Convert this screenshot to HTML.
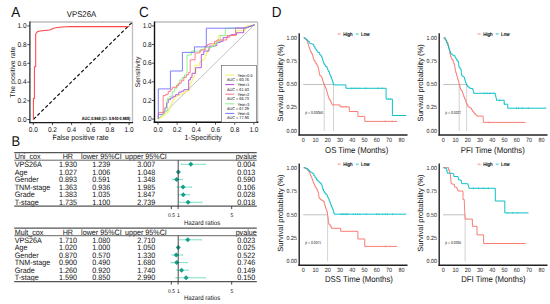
<!DOCTYPE html>
<html><head><meta charset="utf-8"><style>
html,body{margin:0;padding:0;background:#fff;width:550px;height:304px;overflow:hidden}
svg{display:block;font-family:"Liberation Sans", sans-serif;text-rendering:geometricPrecision}
</style></head><body>
<svg width="550" height="304" viewBox="0 0 550 304">
<rect width="550" height="304" fill="#fff"/>
<text x="0" y="0" font-size="14.67" text-anchor="start" fill="#111" stroke="#111" stroke-width="0.000" font-weight="normal" transform="translate(11.300,17.100) scale(0.9200,1.0000)">A</text>
<text x="0" y="0" font-size="8.48" text-anchor="middle" fill="#111" stroke="#111" stroke-width="0.000" font-weight="normal" transform="translate(81.500,17.400) scale(0.9200,1.0000)">VPS26A</text>
<line x1="29.90" y1="22.00" x2="132.50" y2="22.00" stroke="#bdbdbd" stroke-width="1.3"/>
<line x1="132.50" y1="22.00" x2="132.50" y2="122.70" stroke="#bdbdbd" stroke-width="1.3"/>
<line x1="27.30" y1="119.50" x2="29.90" y2="119.50" stroke="#222" stroke-width="0.8"/>
<text x="0" y="0" font-size="7.07" text-anchor="end" fill="#111" stroke="#111" stroke-width="0.000" font-weight="normal" transform="translate(26.500,121.800) scale(0.9200,1.0000)">0.0</text>
<line x1="33.30" y1="122.70" x2="33.30" y2="125.10" stroke="#222" stroke-width="0.8"/>
<text x="0" y="0" font-size="7.07" text-anchor="middle" fill="#111" stroke="#111" stroke-width="0.000" font-weight="normal" transform="translate(33.300,131.500) scale(0.9200,1.0000)">0.0</text>
<line x1="27.30" y1="100.78" x2="29.90" y2="100.78" stroke="#222" stroke-width="0.8"/>
<text x="0" y="0" font-size="7.07" text-anchor="end" fill="#111" stroke="#111" stroke-width="0.000" font-weight="normal" transform="translate(26.500,103.080) scale(0.9200,1.0000)">0.2</text>
<line x1="52.46" y1="122.70" x2="52.46" y2="125.10" stroke="#222" stroke-width="0.8"/>
<text x="0" y="0" font-size="7.07" text-anchor="middle" fill="#111" stroke="#111" stroke-width="0.000" font-weight="normal" transform="translate(52.460,131.500) scale(0.9200,1.0000)">0.2</text>
<line x1="27.30" y1="82.06" x2="29.90" y2="82.06" stroke="#222" stroke-width="0.8"/>
<text x="0" y="0" font-size="7.07" text-anchor="end" fill="#111" stroke="#111" stroke-width="0.000" font-weight="normal" transform="translate(26.500,84.360) scale(0.9200,1.0000)">0.4</text>
<line x1="71.62" y1="122.70" x2="71.62" y2="125.10" stroke="#222" stroke-width="0.8"/>
<text x="0" y="0" font-size="7.07" text-anchor="middle" fill="#111" stroke="#111" stroke-width="0.000" font-weight="normal" transform="translate(71.620,131.500) scale(0.9200,1.0000)">0.4</text>
<line x1="27.30" y1="63.34" x2="29.90" y2="63.34" stroke="#222" stroke-width="0.8"/>
<text x="0" y="0" font-size="7.07" text-anchor="end" fill="#111" stroke="#111" stroke-width="0.000" font-weight="normal" transform="translate(26.500,65.640) scale(0.9200,1.0000)">0.6</text>
<line x1="90.78" y1="122.70" x2="90.78" y2="125.10" stroke="#222" stroke-width="0.8"/>
<text x="0" y="0" font-size="7.07" text-anchor="middle" fill="#111" stroke="#111" stroke-width="0.000" font-weight="normal" transform="translate(90.780,131.500) scale(0.9200,1.0000)">0.6</text>
<line x1="27.30" y1="44.62" x2="29.90" y2="44.62" stroke="#222" stroke-width="0.8"/>
<text x="0" y="0" font-size="7.07" text-anchor="end" fill="#111" stroke="#111" stroke-width="0.000" font-weight="normal" transform="translate(26.500,46.920) scale(0.9200,1.0000)">0.8</text>
<line x1="109.94" y1="122.70" x2="109.94" y2="125.10" stroke="#222" stroke-width="0.8"/>
<text x="0" y="0" font-size="7.07" text-anchor="middle" fill="#111" stroke="#111" stroke-width="0.000" font-weight="normal" transform="translate(109.940,131.500) scale(0.9200,1.0000)">0.8</text>
<line x1="27.30" y1="25.90" x2="29.90" y2="25.90" stroke="#222" stroke-width="0.8"/>
<text x="0" y="0" font-size="7.07" text-anchor="end" fill="#111" stroke="#111" stroke-width="0.000" font-weight="normal" transform="translate(26.500,28.200) scale(0.9200,1.0000)">1.0</text>
<line x1="129.10" y1="122.70" x2="129.10" y2="125.10" stroke="#222" stroke-width="0.8"/>
<text x="0" y="0" font-size="7.07" text-anchor="middle" fill="#111" stroke="#111" stroke-width="0.000" font-weight="normal" transform="translate(129.100,131.500) scale(0.9200,1.0000)">1.0</text>
<line x1="29.90" y1="21.50" x2="29.90" y2="123.30" stroke="#1a1a1a" stroke-width="1.2"/>
<line x1="29.30" y1="122.70" x2="133.10" y2="122.70" stroke="#1a1a1a" stroke-width="1.2"/>
<text x="0" y="0" font-size="7.50" text-anchor="middle" fill="#111" stroke="#111" stroke-width="0.000" font-weight="normal" transform="translate(80.500,140.300) scale(0.9200,1.0000)">False positive rate</text>
<text x="0" y="0" font-size="6.95" text-anchor="middle" fill="#111" stroke="#111" stroke-width="0.000" font-weight="normal" transform="translate(15.000,72.200) scale(1.0000,1.0000) rotate(-90)">The positive rate</text>
<line x1="33.40" y1="119.40" x2="132.20" y2="22.30" stroke="#111" stroke-width="1.2" stroke-dasharray="3.4,2.2"/>
<polyline points="33.40,119.50 33.40,98.50 34.40,98.50 34.40,66.80 35.70,66.80 35.70,34.00 36.50,32.80 37.80,31.40 40.00,30.90 44.70,30.40 49.70,29.90 53.60,28.20 57.00,27.60 62.00,27.00 70.00,26.60 128.60,26.60 129.30,25.90" fill="none" stroke="#ff4646" stroke-width="1.05" stroke-linejoin="round"/>
<text x="0" y="0" font-size="4.60" text-anchor="end" fill="#000" stroke="#000" stroke-width="0.000" font-weight="bold" transform="translate(130.300,119.700) scale(0.8200,1.0000)">AUC:0.968 (CI: 0.940-0.988)</text>
<text x="0" y="0" font-size="14.13" text-anchor="start" fill="#111" stroke="#111" stroke-width="0.000" font-weight="normal" transform="translate(11.500,146.300) scale(0.9200,1.0000)">B</text>
<line x1="14.20" y1="152.60" x2="256.80" y2="152.60" stroke="#555" stroke-width="1.2"/>
<text x="0" y="0" font-size="7.80" text-anchor="start" fill="#111" stroke="#111" stroke-width="0.000" font-weight="normal" transform="translate(14.700,159.400) scale(0.9200,1.0000)">Uni_cox</text>
<text x="0" y="0" font-size="7.80" text-anchor="middle" fill="#111" stroke="#111" stroke-width="0.000" font-weight="normal" transform="translate(67.800,159.400) scale(0.9200,1.0000)">HR</text>
<text x="0" y="0" font-size="7.80" text-anchor="middle" fill="#111" stroke="#111" stroke-width="0.000" font-weight="normal" transform="translate(101.400,159.400) scale(0.9200,1.0000)">lower 95%CI</text>
<text x="0" y="0" font-size="7.80" text-anchor="middle" fill="#111" stroke="#111" stroke-width="0.000" font-weight="normal" transform="translate(145.900,159.400) scale(0.9200,1.0000)">upper 95%CI</text>
<text x="0" y="0" font-size="7.80" text-anchor="middle" fill="#111" stroke="#111" stroke-width="0.000" font-weight="normal" transform="translate(246.200,159.400) scale(0.9200,1.0000)">pvalue</text>
<line x1="14.20" y1="160.20" x2="256.80" y2="160.20" stroke="#555" stroke-width="0.9"/>
<text x="0" y="0" font-size="7.80" text-anchor="start" fill="#111" stroke="#111" stroke-width="0.000" font-weight="normal" transform="translate(14.700,167.000) scale(0.9200,1.0000)">VPS26A</text>
<text x="0" y="0" font-size="7.80" text-anchor="end" fill="#111" stroke="#111" stroke-width="0.000" font-weight="normal" transform="translate(77.000,167.000) scale(0.9200,1.0000)">1.930</text>
<text x="0" y="0" font-size="7.80" text-anchor="middle" fill="#111" stroke="#111" stroke-width="0.000" font-weight="normal" transform="translate(101.200,167.000) scale(0.9200,1.0000)">1.239</text>
<text x="0" y="0" font-size="7.80" text-anchor="middle" fill="#111" stroke="#111" stroke-width="0.000" font-weight="normal" transform="translate(146.200,167.000) scale(0.9200,1.0000)">3.007</text>
<text x="0" y="0" font-size="7.80" text-anchor="middle" fill="#111" stroke="#111" stroke-width="0.000" font-weight="normal" transform="translate(246.300,167.000) scale(0.9200,1.0000)">0.004</text>
<line x1="181.29" y1="164.30" x2="205.60" y2="164.30" stroke="#6fdcc0" stroke-width="0.9"/>
<line x1="181.29" y1="163.40" x2="181.29" y2="165.20" stroke="#6fdcc0" stroke-width="0.6"/>
<line x1="205.60" y1="163.40" x2="205.60" y2="165.20" stroke="#6fdcc0" stroke-width="0.6"/>
<path d="M188.29,164.30 L190.79,161.80 L193.29,164.30 L190.79,166.80 Z" fill="#13a08a"/>
<text x="0" y="0" font-size="7.80" text-anchor="start" fill="#111" stroke="#111" stroke-width="0.000" font-weight="normal" transform="translate(14.700,174.550) scale(0.9200,1.0000)">Age</text>
<text x="0" y="0" font-size="7.80" text-anchor="end" fill="#111" stroke="#111" stroke-width="0.000" font-weight="normal" transform="translate(77.000,174.550) scale(0.9200,1.0000)">1.027</text>
<text x="0" y="0" font-size="7.80" text-anchor="middle" fill="#111" stroke="#111" stroke-width="0.000" font-weight="normal" transform="translate(101.200,174.550) scale(0.9200,1.0000)">1.006</text>
<text x="0" y="0" font-size="7.80" text-anchor="middle" fill="#111" stroke="#111" stroke-width="0.000" font-weight="normal" transform="translate(146.200,174.550) scale(0.9200,1.0000)">1.048</text>
<text x="0" y="0" font-size="7.80" text-anchor="middle" fill="#111" stroke="#111" stroke-width="0.000" font-weight="normal" transform="translate(246.300,174.550) scale(0.9200,1.0000)">0.013</text>
<line x1="178.08" y1="171.90" x2="178.66" y2="171.90" stroke="#6fdcc0" stroke-width="0.9"/>
<line x1="178.08" y1="171.00" x2="178.08" y2="172.80" stroke="#6fdcc0" stroke-width="0.6"/>
<line x1="178.66" y1="171.00" x2="178.66" y2="172.80" stroke="#6fdcc0" stroke-width="0.6"/>
<path d="M175.87,171.90 L178.37,169.40 L180.87,171.90 L178.37,174.40 Z" fill="#13a08a"/>
<text x="0" y="0" font-size="7.80" text-anchor="start" fill="#111" stroke="#111" stroke-width="0.000" font-weight="normal" transform="translate(14.700,182.100) scale(0.9200,1.0000)">Gender</text>
<text x="0" y="0" font-size="7.80" text-anchor="end" fill="#111" stroke="#111" stroke-width="0.000" font-weight="normal" transform="translate(77.000,182.100) scale(0.9200,1.0000)">0.893</text>
<text x="0" y="0" font-size="7.80" text-anchor="middle" fill="#111" stroke="#111" stroke-width="0.000" font-weight="normal" transform="translate(101.200,182.100) scale(0.9200,1.0000)">0.591</text>
<text x="0" y="0" font-size="7.80" text-anchor="middle" fill="#111" stroke="#111" stroke-width="0.000" font-weight="normal" transform="translate(146.200,182.100) scale(0.9200,1.0000)">1.348</text>
<text x="0" y="0" font-size="7.80" text-anchor="middle" fill="#111" stroke="#111" stroke-width="0.000" font-weight="normal" transform="translate(246.300,182.100) scale(0.9200,1.0000)">0.590</text>
<line x1="172.38" y1="179.50" x2="182.78" y2="179.50" stroke="#6fdcc0" stroke-width="0.9"/>
<line x1="172.38" y1="178.60" x2="172.38" y2="180.40" stroke="#6fdcc0" stroke-width="0.6"/>
<line x1="182.78" y1="178.60" x2="182.78" y2="180.40" stroke="#6fdcc0" stroke-width="0.6"/>
<path d="M174.03,179.50 L176.53,177.00 L179.03,179.50 L176.53,182.00 Z" fill="#13a08a"/>
<text x="0" y="0" font-size="7.80" text-anchor="start" fill="#111" stroke="#111" stroke-width="0.000" font-weight="normal" transform="translate(14.700,189.650) scale(0.9200,1.0000)">TNM-stage</text>
<text x="0" y="0" font-size="7.80" text-anchor="end" fill="#111" stroke="#111" stroke-width="0.000" font-weight="normal" transform="translate(77.000,189.650) scale(0.9200,1.0000)">1.363</text>
<text x="0" y="0" font-size="7.80" text-anchor="middle" fill="#111" stroke="#111" stroke-width="0.000" font-weight="normal" transform="translate(101.200,189.650) scale(0.9200,1.0000)">0.936</text>
<text x="0" y="0" font-size="7.80" text-anchor="middle" fill="#111" stroke="#111" stroke-width="0.000" font-weight="normal" transform="translate(146.200,189.650) scale(0.9200,1.0000)">1.985</text>
<text x="0" y="0" font-size="7.80" text-anchor="middle" fill="#111" stroke="#111" stroke-width="0.000" font-weight="normal" transform="translate(246.300,189.650) scale(0.9200,1.0000)">0.106</text>
<line x1="177.12" y1="187.10" x2="191.54" y2="187.10" stroke="#6fdcc0" stroke-width="0.9"/>
<line x1="177.12" y1="186.20" x2="177.12" y2="188.00" stroke="#6fdcc0" stroke-width="0.6"/>
<line x1="191.54" y1="186.20" x2="191.54" y2="188.00" stroke="#6fdcc0" stroke-width="0.6"/>
<path d="M180.49,187.10 L182.99,184.60 L185.49,187.10 L182.99,189.60 Z" fill="#13a08a"/>
<text x="0" y="0" font-size="7.80" text-anchor="start" fill="#111" stroke="#111" stroke-width="0.000" font-weight="normal" transform="translate(14.700,197.200) scale(0.9200,1.0000)">Grade</text>
<text x="0" y="0" font-size="7.80" text-anchor="end" fill="#111" stroke="#111" stroke-width="0.000" font-weight="normal" transform="translate(77.000,197.200) scale(0.9200,1.0000)">1.383</text>
<text x="0" y="0" font-size="7.80" text-anchor="middle" fill="#111" stroke="#111" stroke-width="0.000" font-weight="normal" transform="translate(101.200,197.200) scale(0.9200,1.0000)">1.035</text>
<text x="0" y="0" font-size="7.80" text-anchor="middle" fill="#111" stroke="#111" stroke-width="0.000" font-weight="normal" transform="translate(146.200,197.200) scale(0.9200,1.0000)">1.847</text>
<text x="0" y="0" font-size="7.80" text-anchor="middle" fill="#111" stroke="#111" stroke-width="0.000" font-weight="normal" transform="translate(246.300,197.200) scale(0.9200,1.0000)">0.028</text>
<line x1="178.48" y1="194.70" x2="189.65" y2="194.70" stroke="#6fdcc0" stroke-width="0.9"/>
<line x1="178.48" y1="193.80" x2="178.48" y2="195.60" stroke="#6fdcc0" stroke-width="0.6"/>
<line x1="189.65" y1="193.80" x2="189.65" y2="195.60" stroke="#6fdcc0" stroke-width="0.6"/>
<path d="M180.77,194.70 L183.27,192.20 L185.77,194.70 L183.27,197.20 Z" fill="#13a08a"/>
<text x="0" y="0" font-size="7.80" text-anchor="start" fill="#111" stroke="#111" stroke-width="0.000" font-weight="normal" transform="translate(14.700,204.750) scale(0.9200,1.0000)">T-stage</text>
<text x="0" y="0" font-size="7.80" text-anchor="end" fill="#111" stroke="#111" stroke-width="0.000" font-weight="normal" transform="translate(77.000,204.750) scale(0.9200,1.0000)">1.735</text>
<text x="0" y="0" font-size="7.80" text-anchor="middle" fill="#111" stroke="#111" stroke-width="0.000" font-weight="normal" transform="translate(101.200,204.750) scale(0.9200,1.0000)">1.100</text>
<text x="0" y="0" font-size="7.80" text-anchor="middle" fill="#111" stroke="#111" stroke-width="0.000" font-weight="normal" transform="translate(146.200,204.750) scale(0.9200,1.0000)">2.739</text>
<text x="0" y="0" font-size="7.80" text-anchor="middle" fill="#111" stroke="#111" stroke-width="0.000" font-weight="normal" transform="translate(246.300,204.750) scale(0.9200,1.0000)">0.018</text>
<line x1="179.38" y1="202.30" x2="201.91" y2="202.30" stroke="#6fdcc0" stroke-width="0.9"/>
<line x1="179.38" y1="201.40" x2="179.38" y2="203.20" stroke="#6fdcc0" stroke-width="0.6"/>
<line x1="201.91" y1="201.40" x2="201.91" y2="203.20" stroke="#6fdcc0" stroke-width="0.6"/>
<path d="M185.61,202.30 L188.11,199.80 L190.61,202.30 L188.11,204.80 Z" fill="#13a08a"/>
<line x1="14.20" y1="206.10" x2="256.80" y2="206.10" stroke="#555" stroke-width="1.2"/>
<line x1="178.20" y1="160.20" x2="178.20" y2="206.10" stroke="#333" stroke-width="0.9"/>
<line x1="171.30" y1="206.10" x2="171.30" y2="209.10" stroke="#333" stroke-width="0.9"/>
<line x1="178.10" y1="206.10" x2="178.10" y2="209.10" stroke="#333" stroke-width="0.9"/>
<line x1="231.70" y1="206.10" x2="231.70" y2="209.10" stroke="#333" stroke-width="0.9"/>
<text x="0" y="0" font-size="5.43" text-anchor="middle" fill="#111" stroke="#111" stroke-width="0.000" font-weight="normal" transform="translate(171.500,217.200) scale(0.9200,1.0000)">0.5</text>
<text x="0" y="0" font-size="5.43" text-anchor="middle" fill="#111" stroke="#111" stroke-width="0.000" font-weight="normal" transform="translate(178.400,217.200) scale(0.9200,1.0000)">1</text>
<text x="0" y="0" font-size="5.43" text-anchor="middle" fill="#111" stroke="#111" stroke-width="0.000" font-weight="normal" transform="translate(232.000,217.200) scale(0.9200,1.0000)">5</text>
<text x="0" y="0" font-size="6.63" text-anchor="middle" fill="#111" stroke="#111" stroke-width="0.000" font-weight="normal" transform="translate(202.100,224.500) scale(0.9200,1.0000)">Hazard ratios</text>
<line x1="14.20" y1="228.10" x2="256.80" y2="228.10" stroke="#555" stroke-width="1.2"/>
<text x="0" y="0" font-size="7.80" text-anchor="start" fill="#111" stroke="#111" stroke-width="0.000" font-weight="normal" transform="translate(14.700,234.900) scale(0.9200,1.0000)">Mult_cox</text>
<text x="0" y="0" font-size="7.80" text-anchor="middle" fill="#111" stroke="#111" stroke-width="0.000" font-weight="normal" transform="translate(67.800,234.900) scale(0.9200,1.0000)">HR</text>
<text x="0" y="0" font-size="7.80" text-anchor="middle" fill="#111" stroke="#111" stroke-width="0.000" font-weight="normal" transform="translate(101.400,234.900) scale(0.9200,1.0000)">lower 95%CI</text>
<text x="0" y="0" font-size="7.80" text-anchor="middle" fill="#111" stroke="#111" stroke-width="0.000" font-weight="normal" transform="translate(145.900,234.900) scale(0.9200,1.0000)">upper 95%CI</text>
<text x="0" y="0" font-size="7.80" text-anchor="middle" fill="#111" stroke="#111" stroke-width="0.000" font-weight="normal" transform="translate(246.200,234.900) scale(0.9200,1.0000)">pvalue</text>
<line x1="14.20" y1="235.70" x2="256.80" y2="235.70" stroke="#555" stroke-width="0.9"/>
<text x="0" y="0" font-size="7.80" text-anchor="start" fill="#111" stroke="#111" stroke-width="0.000" font-weight="normal" transform="translate(14.700,242.500) scale(0.9200,1.0000)">VPS26A</text>
<text x="0" y="0" font-size="7.80" text-anchor="end" fill="#111" stroke="#111" stroke-width="0.000" font-weight="normal" transform="translate(77.000,242.500) scale(0.9200,1.0000)">1.710</text>
<text x="0" y="0" font-size="7.80" text-anchor="middle" fill="#111" stroke="#111" stroke-width="0.000" font-weight="normal" transform="translate(101.200,242.500) scale(0.9200,1.0000)">1.080</text>
<text x="0" y="0" font-size="7.80" text-anchor="middle" fill="#111" stroke="#111" stroke-width="0.000" font-weight="normal" transform="translate(146.200,242.500) scale(0.9200,1.0000)">2.710</text>
<text x="0" y="0" font-size="7.80" text-anchor="middle" fill="#111" stroke="#111" stroke-width="0.000" font-weight="normal" transform="translate(246.300,242.500) scale(0.9200,1.0000)">0.023</text>
<line x1="179.10" y1="239.80" x2="201.51" y2="239.80" stroke="#6fdcc0" stroke-width="0.9"/>
<line x1="179.10" y1="238.90" x2="179.10" y2="240.70" stroke="#6fdcc0" stroke-width="0.6"/>
<line x1="201.51" y1="238.90" x2="201.51" y2="240.70" stroke="#6fdcc0" stroke-width="0.6"/>
<path d="M185.26,239.80 L187.76,237.30 L190.26,239.80 L187.76,242.30 Z" fill="#13a08a"/>
<text x="0" y="0" font-size="7.80" text-anchor="start" fill="#111" stroke="#111" stroke-width="0.000" font-weight="normal" transform="translate(14.700,250.050) scale(0.9200,1.0000)">Age</text>
<text x="0" y="0" font-size="7.80" text-anchor="end" fill="#111" stroke="#111" stroke-width="0.000" font-weight="normal" transform="translate(77.000,250.050) scale(0.9200,1.0000)">1.020</text>
<text x="0" y="0" font-size="7.80" text-anchor="middle" fill="#111" stroke="#111" stroke-width="0.000" font-weight="normal" transform="translate(101.200,250.050) scale(0.9200,1.0000)">1.000</text>
<text x="0" y="0" font-size="7.80" text-anchor="middle" fill="#111" stroke="#111" stroke-width="0.000" font-weight="normal" transform="translate(146.200,250.050) scale(0.9200,1.0000)">1.050</text>
<text x="0" y="0" font-size="7.80" text-anchor="middle" fill="#111" stroke="#111" stroke-width="0.000" font-weight="normal" transform="translate(246.300,250.050) scale(0.9200,1.0000)">0.025</text>
<line x1="178.00" y1="247.40" x2="178.69" y2="247.40" stroke="#6fdcc0" stroke-width="0.9"/>
<line x1="178.00" y1="246.50" x2="178.00" y2="248.30" stroke="#6fdcc0" stroke-width="0.6"/>
<line x1="178.69" y1="246.50" x2="178.69" y2="248.30" stroke="#6fdcc0" stroke-width="0.6"/>
<path d="M175.78,247.40 L178.28,244.90 L180.78,247.40 L178.28,249.90 Z" fill="#13a08a"/>
<text x="0" y="0" font-size="7.80" text-anchor="start" fill="#111" stroke="#111" stroke-width="0.000" font-weight="normal" transform="translate(14.700,257.600) scale(0.9200,1.0000)">Gender</text>
<text x="0" y="0" font-size="7.80" text-anchor="end" fill="#111" stroke="#111" stroke-width="0.000" font-weight="normal" transform="translate(77.000,257.600) scale(0.9200,1.0000)">0.870</text>
<text x="0" y="0" font-size="7.80" text-anchor="middle" fill="#111" stroke="#111" stroke-width="0.000" font-weight="normal" transform="translate(101.200,257.600) scale(0.9200,1.0000)">0.570</text>
<text x="0" y="0" font-size="7.80" text-anchor="middle" fill="#111" stroke="#111" stroke-width="0.000" font-weight="normal" transform="translate(146.200,257.600) scale(0.9200,1.0000)">1.330</text>
<text x="0" y="0" font-size="7.80" text-anchor="middle" fill="#111" stroke="#111" stroke-width="0.000" font-weight="normal" transform="translate(246.300,257.600) scale(0.9200,1.0000)">0.522</text>
<line x1="172.09" y1="255.00" x2="182.54" y2="255.00" stroke="#6fdcc0" stroke-width="0.9"/>
<line x1="172.09" y1="254.10" x2="172.09" y2="255.90" stroke="#6fdcc0" stroke-width="0.6"/>
<line x1="182.54" y1="254.10" x2="182.54" y2="255.90" stroke="#6fdcc0" stroke-width="0.6"/>
<path d="M173.71,255.00 L176.21,252.50 L178.71,255.00 L176.21,257.50 Z" fill="#13a08a"/>
<text x="0" y="0" font-size="7.80" text-anchor="start" fill="#111" stroke="#111" stroke-width="0.000" font-weight="normal" transform="translate(14.700,265.150) scale(0.9200,1.0000)">TNM-stage</text>
<text x="0" y="0" font-size="7.80" text-anchor="end" fill="#111" stroke="#111" stroke-width="0.000" font-weight="normal" transform="translate(77.000,265.150) scale(0.9200,1.0000)">0.900</text>
<text x="0" y="0" font-size="7.80" text-anchor="middle" fill="#111" stroke="#111" stroke-width="0.000" font-weight="normal" transform="translate(101.200,265.150) scale(0.9200,1.0000)">0.490</text>
<text x="0" y="0" font-size="7.80" text-anchor="middle" fill="#111" stroke="#111" stroke-width="0.000" font-weight="normal" transform="translate(146.200,265.150) scale(0.9200,1.0000)">1.680</text>
<text x="0" y="0" font-size="7.80" text-anchor="middle" fill="#111" stroke="#111" stroke-width="0.000" font-weight="normal" transform="translate(246.300,265.150) scale(0.9200,1.0000)">0.746</text>
<line x1="170.99" y1="262.60" x2="187.35" y2="262.60" stroke="#6fdcc0" stroke-width="0.9"/>
<line x1="170.99" y1="261.70" x2="170.99" y2="263.50" stroke="#6fdcc0" stroke-width="0.6"/>
<line x1="187.35" y1="261.70" x2="187.35" y2="263.50" stroke="#6fdcc0" stroke-width="0.6"/>
<path d="M174.12,262.60 L176.62,260.10 L179.12,262.60 L176.62,265.10 Z" fill="#13a08a"/>
<text x="0" y="0" font-size="7.80" text-anchor="start" fill="#111" stroke="#111" stroke-width="0.000" font-weight="normal" transform="translate(14.700,272.700) scale(0.9200,1.0000)">Grade</text>
<text x="0" y="0" font-size="7.80" text-anchor="end" fill="#111" stroke="#111" stroke-width="0.000" font-weight="normal" transform="translate(77.000,272.700) scale(0.9200,1.0000)">1.260</text>
<text x="0" y="0" font-size="7.80" text-anchor="middle" fill="#111" stroke="#111" stroke-width="0.000" font-weight="normal" transform="translate(101.200,272.700) scale(0.9200,1.0000)">0.920</text>
<text x="0" y="0" font-size="7.80" text-anchor="middle" fill="#111" stroke="#111" stroke-width="0.000" font-weight="normal" transform="translate(146.200,272.700) scale(0.9200,1.0000)">1.740</text>
<text x="0" y="0" font-size="7.80" text-anchor="middle" fill="#111" stroke="#111" stroke-width="0.000" font-weight="normal" transform="translate(246.300,272.700) scale(0.9200,1.0000)">0.149</text>
<line x1="176.90" y1="270.20" x2="188.18" y2="270.20" stroke="#6fdcc0" stroke-width="0.9"/>
<line x1="176.90" y1="269.30" x2="176.90" y2="271.10" stroke="#6fdcc0" stroke-width="0.6"/>
<line x1="188.18" y1="269.30" x2="188.18" y2="271.10" stroke="#6fdcc0" stroke-width="0.6"/>
<path d="M179.07,270.20 L181.57,267.70 L184.07,270.20 L181.57,272.70 Z" fill="#13a08a"/>
<text x="0" y="0" font-size="7.80" text-anchor="start" fill="#111" stroke="#111" stroke-width="0.000" font-weight="normal" transform="translate(14.700,280.250) scale(0.9200,1.0000)">T-stage</text>
<text x="0" y="0" font-size="7.80" text-anchor="end" fill="#111" stroke="#111" stroke-width="0.000" font-weight="normal" transform="translate(77.000,280.250) scale(0.9200,1.0000)">1.590</text>
<text x="0" y="0" font-size="7.80" text-anchor="middle" fill="#111" stroke="#111" stroke-width="0.000" font-weight="normal" transform="translate(101.200,280.250) scale(0.9200,1.0000)">0.850</text>
<text x="0" y="0" font-size="7.80" text-anchor="middle" fill="#111" stroke="#111" stroke-width="0.000" font-weight="normal" transform="translate(146.200,280.250) scale(0.9200,1.0000)">2.990</text>
<text x="0" y="0" font-size="7.80" text-anchor="middle" fill="#111" stroke="#111" stroke-width="0.000" font-weight="normal" transform="translate(246.300,280.250) scale(0.9200,1.0000)">0.150</text>
<line x1="175.94" y1="277.80" x2="205.36" y2="277.80" stroke="#6fdcc0" stroke-width="0.9"/>
<line x1="175.94" y1="276.90" x2="175.94" y2="278.70" stroke="#6fdcc0" stroke-width="0.6"/>
<line x1="205.36" y1="276.90" x2="205.36" y2="278.70" stroke="#6fdcc0" stroke-width="0.6"/>
<path d="M183.61,277.80 L186.11,275.30 L188.61,277.80 L186.11,280.30 Z" fill="#13a08a"/>
<line x1="14.20" y1="281.60" x2="256.80" y2="281.60" stroke="#555" stroke-width="1.2"/>
<line x1="178.20" y1="235.70" x2="178.20" y2="281.60" stroke="#333" stroke-width="0.9"/>
<line x1="171.30" y1="281.60" x2="171.30" y2="284.60" stroke="#333" stroke-width="0.9"/>
<line x1="178.10" y1="281.60" x2="178.10" y2="284.60" stroke="#333" stroke-width="0.9"/>
<line x1="231.70" y1="281.60" x2="231.70" y2="284.60" stroke="#333" stroke-width="0.9"/>
<text x="0" y="0" font-size="5.43" text-anchor="middle" fill="#111" stroke="#111" stroke-width="0.000" font-weight="normal" transform="translate(171.500,292.700) scale(0.9200,1.0000)">0.5</text>
<text x="0" y="0" font-size="5.43" text-anchor="middle" fill="#111" stroke="#111" stroke-width="0.000" font-weight="normal" transform="translate(178.400,292.700) scale(0.9200,1.0000)">1</text>
<text x="0" y="0" font-size="5.43" text-anchor="middle" fill="#111" stroke="#111" stroke-width="0.000" font-weight="normal" transform="translate(232.000,292.700) scale(0.9200,1.0000)">5</text>
<text x="0" y="0" font-size="6.63" text-anchor="middle" fill="#111" stroke="#111" stroke-width="0.000" font-weight="normal" transform="translate(202.100,300.000) scale(0.9200,1.0000)">Hazard ratios</text>
<text x="0" y="0" font-size="14.67" text-anchor="start" fill="#111" stroke="#111" stroke-width="0.000" font-weight="normal" transform="translate(139.100,16.900) scale(0.9200,1.0000)">C</text>
<line x1="154.50" y1="22.00" x2="257.60" y2="22.00" stroke="#bdbdbd" stroke-width="1.3"/>
<line x1="257.60" y1="22.00" x2="257.60" y2="122.30" stroke="#bdbdbd" stroke-width="1.3"/>
<line x1="151.90" y1="119.10" x2="154.50" y2="119.10" stroke="#222" stroke-width="0.8"/>
<text x="0" y="0" font-size="7.07" text-anchor="end" fill="#111" stroke="#111" stroke-width="0.000" font-weight="normal" transform="translate(151.700,121.400) scale(0.9200,1.0000)">0.0</text>
<line x1="158.00" y1="122.30" x2="158.00" y2="124.70" stroke="#222" stroke-width="0.8"/>
<text x="0" y="0" font-size="7.07" text-anchor="middle" fill="#111" stroke="#111" stroke-width="0.000" font-weight="normal" transform="translate(158.000,131.500) scale(0.9200,1.0000)">0.0</text>
<line x1="151.90" y1="100.46" x2="154.50" y2="100.46" stroke="#222" stroke-width="0.8"/>
<text x="0" y="0" font-size="7.07" text-anchor="end" fill="#111" stroke="#111" stroke-width="0.000" font-weight="normal" transform="translate(151.700,102.760) scale(0.9200,1.0000)">0.2</text>
<line x1="177.18" y1="122.30" x2="177.18" y2="124.70" stroke="#222" stroke-width="0.8"/>
<text x="0" y="0" font-size="7.07" text-anchor="middle" fill="#111" stroke="#111" stroke-width="0.000" font-weight="normal" transform="translate(177.180,131.500) scale(0.9200,1.0000)">0.2</text>
<line x1="151.90" y1="81.82" x2="154.50" y2="81.82" stroke="#222" stroke-width="0.8"/>
<text x="0" y="0" font-size="7.07" text-anchor="end" fill="#111" stroke="#111" stroke-width="0.000" font-weight="normal" transform="translate(151.700,84.120) scale(0.9200,1.0000)">0.4</text>
<line x1="196.36" y1="122.30" x2="196.36" y2="124.70" stroke="#222" stroke-width="0.8"/>
<text x="0" y="0" font-size="7.07" text-anchor="middle" fill="#111" stroke="#111" stroke-width="0.000" font-weight="normal" transform="translate(196.360,131.500) scale(0.9200,1.0000)">0.4</text>
<line x1="151.90" y1="63.18" x2="154.50" y2="63.18" stroke="#222" stroke-width="0.8"/>
<text x="0" y="0" font-size="7.07" text-anchor="end" fill="#111" stroke="#111" stroke-width="0.000" font-weight="normal" transform="translate(151.700,65.480) scale(0.9200,1.0000)">0.6</text>
<line x1="215.54" y1="122.30" x2="215.54" y2="124.70" stroke="#222" stroke-width="0.8"/>
<text x="0" y="0" font-size="7.07" text-anchor="middle" fill="#111" stroke="#111" stroke-width="0.000" font-weight="normal" transform="translate(215.540,131.500) scale(0.9200,1.0000)">0.6</text>
<line x1="151.90" y1="44.54" x2="154.50" y2="44.54" stroke="#222" stroke-width="0.8"/>
<text x="0" y="0" font-size="7.07" text-anchor="end" fill="#111" stroke="#111" stroke-width="0.000" font-weight="normal" transform="translate(151.700,46.840) scale(0.9200,1.0000)">0.8</text>
<line x1="234.72" y1="122.30" x2="234.72" y2="124.70" stroke="#222" stroke-width="0.8"/>
<text x="0" y="0" font-size="7.07" text-anchor="middle" fill="#111" stroke="#111" stroke-width="0.000" font-weight="normal" transform="translate(234.720,131.500) scale(0.9200,1.0000)">0.8</text>
<line x1="151.90" y1="25.90" x2="154.50" y2="25.90" stroke="#222" stroke-width="0.8"/>
<text x="0" y="0" font-size="7.07" text-anchor="end" fill="#111" stroke="#111" stroke-width="0.000" font-weight="normal" transform="translate(151.700,28.200) scale(0.9200,1.0000)">1.0</text>
<line x1="253.90" y1="122.30" x2="253.90" y2="124.70" stroke="#222" stroke-width="0.8"/>
<text x="0" y="0" font-size="7.07" text-anchor="middle" fill="#111" stroke="#111" stroke-width="0.000" font-weight="normal" transform="translate(253.900,131.500) scale(0.9200,1.0000)">1.0</text>
<line x1="158.30" y1="119.00" x2="255.00" y2="24.20" stroke="#999" stroke-width="0.6"/>
<polyline points="158.30,119.00 159.62,119.00 159.62,118.08 160.94,118.08 160.94,117.16 162.26,117.16 162.26,116.24 163.58,116.24 163.58,115.32 164.90,115.32 164.90,114.40 166.00,114.40 166.00,113.30 167.10,113.30 167.10,112.20 168.20,112.20 168.20,111.10 169.00,111.10 169.00,109.45 169.80,109.45 169.80,107.80 170.20,107.80 170.20,106.15 170.60,106.15 170.60,104.50 171.43,104.50 171.43,102.87 172.27,102.87 172.27,101.23 173.10,101.23 173.10,99.60 174.35,99.60 174.35,97.95 175.60,97.95 175.60,96.30 176.97,96.30 176.97,95.77 178.33,95.77 178.33,95.23 179.70,95.23 179.70,94.70 181.07,94.70 181.07,93.87 182.43,93.87 182.43,93.03 183.80,93.03 183.80,92.20 185.17,92.20 185.17,91.67 186.53,91.67 186.53,91.13 187.90,91.13 187.90,90.60 189.50,90.60 189.50,88.90 189.72,88.90 189.72,87.25 189.95,87.25 189.95,85.60 190.18,85.60 190.18,83.95 190.40,83.95 190.40,82.30 192.00,82.30 192.00,79.90 192.83,79.90 192.83,78.23 193.67,78.23 193.67,76.57 194.50,76.57 194.50,74.90 194.54,74.90 194.54,72.96 194.58,72.96 194.58,71.02 194.62,71.02 194.62,69.08 194.66,69.08 194.66,67.14 194.70,67.14 194.70,65.20 199.70,65.20 199.70,62.00 201.02,62.00 201.02,61.00 202.35,61.00 202.35,60.00 203.68,60.00 203.68,59.00 205.00,59.00 205.00,58.00 205.00,55.40 206.60,55.40 206.60,52.90 207.45,52.90 207.45,50.85 208.30,50.85 208.30,48.80 209.40,48.80 209.40,47.97 210.50,47.97 210.50,47.13 211.60,47.13 211.60,46.30 212.70,46.30 212.70,45.47 213.80,45.47 213.80,44.63 214.90,44.63 214.90,43.80 216.00,43.80 216.00,42.87 217.10,42.87 217.10,41.93 218.20,41.93 218.20,41.00 218.20,35.50 228.50,35.50 229.87,35.50 229.87,35.45 231.23,35.45 231.23,35.40 232.60,35.40 232.60,35.35 233.97,35.35 233.97,35.30 235.33,35.30 235.33,35.25 236.70,35.25 236.70,35.20 236.70,30.70 245.30,30.70 245.30,26.20 246.61,26.20 246.61,26.00 247.93,26.00 247.93,25.80 249.24,25.80 249.24,25.60 250.56,25.60 250.56,25.40 251.87,25.40 251.87,25.20 253.19,25.20 253.19,25.00 254.50,25.00 254.50,24.80" fill="none" stroke="#f2f25a" stroke-width="0.9" stroke-linejoin="miter"/>
<polyline points="158.30,119.00 158.30,114.40 163.20,114.40 163.20,112.00 164.90,112.00 164.90,107.80 166.50,107.80 166.50,102.90 168.20,102.90 168.20,99.60 170.60,99.60 170.60,98.00 173.10,98.00 173.10,96.30 175.60,96.30 175.60,94.70 178.80,94.70 178.80,92.20 181.30,92.20 181.30,91.10 183.80,91.10 183.80,89.70 188.70,89.70 188.70,79.90 190.40,79.90 190.40,77.40 192.00,77.40 192.00,73.30 195.60,73.30 195.60,67.70 201.30,67.70 201.30,54.50 203.80,54.50 203.80,51.00 209.00,51.00 209.00,46.20 215.30,46.20 215.30,45.40 216.90,45.40 216.90,42.50 220.20,42.50 220.20,41.30 223.10,41.30 223.10,37.60 227.20,37.60 227.20,35.90 230.90,35.90 230.90,34.70 236.70,34.70 236.70,32.70 243.70,32.70 243.70,28.20 245.30,28.20 254.50,24.80" fill="none" stroke="#b048d8" stroke-width="0.9" stroke-linejoin="round"/>
<polyline points="158.60,118.50 162.40,114.40 164.90,113.10 164.90,111.00 167.30,111.00 167.30,98.80 169.80,98.80 169.80,96.30 172.30,96.30 172.30,91.40 174.70,91.40 174.70,88.10 177.20,88.10 177.20,84.00 179.70,84.00 179.70,79.90 182.10,79.90 182.10,77.40 184.60,77.40 184.60,74.90 187.00,74.90 187.00,55.00 191.40,55.00 191.40,51.20 201.30,51.20 201.30,49.30 205.00,49.30 205.00,47.60 211.50,47.60 211.50,46.20 215.30,46.20 215.30,42.90 217.80,42.90 217.80,41.30 220.20,41.30 220.20,35.50 225.30,35.50 225.30,28.30 245.30,28.20 254.50,24.80" fill="none" stroke="#88f088" stroke-width="0.9" stroke-linejoin="round"/>
<polyline points="158.50,118.50 158.50,112.40 163.20,112.40 163.20,95.50 165.70,95.50 165.70,94.30 168.20,94.30 168.20,91.40 170.60,91.40 170.60,89.40 172.30,89.40 172.30,87.30 176.40,87.30 176.40,85.60 178.80,85.60 178.80,83.20 181.30,83.20 181.30,80.70 183.80,80.70 183.80,77.40 186.30,77.40 186.30,74.90 188.70,74.90 188.70,72.50 190.20,72.50 190.20,59.80 195.10,59.80 195.10,52.90 200.00,52.90 200.00,50.00 205.00,50.00 205.00,46.30 207.50,46.30 207.50,44.70 209.00,44.70 209.00,43.80 214.50,43.80 214.50,41.30 216.90,41.30 216.90,40.00 226.80,40.00 226.80,37.20 229.30,37.20 229.30,35.50 235.50,35.50 235.50,28.20 245.30,28.20 254.50,24.80" fill="none" stroke="#ff6f7f" stroke-width="0.9" stroke-linejoin="round"/>
<polyline points="158.30,118.50 158.30,88.90 170.40,88.90 170.40,71.00 182.40,71.00 182.40,52.40 194.40,52.40 194.40,46.90 206.30,46.90 206.30,28.20 225.00,28.20 245.30,27.90 254.50,24.80" fill="none" stroke="#7070ff" stroke-width="0.9" stroke-linejoin="round"/>
<line x1="154.50" y1="21.50" x2="154.50" y2="123.00" stroke="#111" stroke-width="1.4"/>
<line x1="153.80" y1="122.30" x2="258.30" y2="122.30" stroke="#111" stroke-width="1.4"/>
<rect x="221.4" y="65.5" width="35.3" height="56.7" fill="#fff" stroke="#555" stroke-width="0.6"/>
<line x1="225.30" y1="75.00" x2="234.20" y2="75.00" stroke="#f2f25a" stroke-width="1.0"/>
<text x="0" y="0" font-size="4.08" text-anchor="start" fill="#000" stroke="#000" stroke-width="0.000" font-weight="normal" transform="translate(237.600,76.800) scale(0.9200,1.0000)">Year=0.5</text>
<text x="0" y="0" font-size="4.18" text-anchor="start" fill="#000" stroke="#000" stroke-width="0.000" font-weight="normal" transform="translate(226.900,81.000) scale(0.9200,1.0000)">AUC = 60.76</text>
<line x1="225.30" y1="84.60" x2="234.20" y2="84.60" stroke="#b048d8" stroke-width="1.0"/>
<text x="0" y="0" font-size="4.08" text-anchor="start" fill="#000" stroke="#000" stroke-width="0.000" font-weight="normal" transform="translate(237.600,86.400) scale(0.9200,1.0000)">Year=1</text>
<text x="0" y="0" font-size="4.18" text-anchor="start" fill="#000" stroke="#000" stroke-width="0.000" font-weight="normal" transform="translate(226.900,90.600) scale(0.9200,1.0000)">AUC = 61.53</text>
<line x1="225.30" y1="94.20" x2="234.20" y2="94.20" stroke="#ff6f7f" stroke-width="1.0"/>
<text x="0" y="0" font-size="4.08" text-anchor="start" fill="#000" stroke="#000" stroke-width="0.000" font-weight="normal" transform="translate(237.600,96.000) scale(0.9200,1.0000)">Year=2</text>
<text x="0" y="0" font-size="4.18" text-anchor="start" fill="#000" stroke="#000" stroke-width="0.000" font-weight="normal" transform="translate(226.900,100.200) scale(0.9200,1.0000)">AUC = 66.73</text>
<line x1="225.30" y1="103.80" x2="234.20" y2="103.80" stroke="#88f088" stroke-width="1.0"/>
<text x="0" y="0" font-size="4.08" text-anchor="start" fill="#000" stroke="#000" stroke-width="0.000" font-weight="normal" transform="translate(237.600,105.600) scale(0.9200,1.0000)">Year=3</text>
<text x="0" y="0" font-size="4.18" text-anchor="start" fill="#000" stroke="#000" stroke-width="0.000" font-weight="normal" transform="translate(226.900,109.800) scale(0.9200,1.0000)">AUC = 67.29</text>
<line x1="225.30" y1="113.40" x2="234.20" y2="113.40" stroke="#7070ff" stroke-width="1.0"/>
<text x="0" y="0" font-size="4.08" text-anchor="start" fill="#000" stroke="#000" stroke-width="0.000" font-weight="normal" transform="translate(237.600,115.200) scale(0.9200,1.0000)">Year=5</text>
<text x="0" y="0" font-size="4.18" text-anchor="start" fill="#000" stroke="#000" stroke-width="0.000" font-weight="normal" transform="translate(226.900,119.400) scale(0.9200,1.0000)">AUC = 77.90</text>
<text x="0" y="0" font-size="6.80" text-anchor="middle" fill="#111" stroke="#111" stroke-width="0.000" font-weight="normal" transform="translate(140.400,71.900) scale(1.0000,1.0000) rotate(-90)">Sensitivity</text>
<text x="0" y="0" font-size="7.50" text-anchor="middle" fill="#111" stroke="#111" stroke-width="0.000" font-weight="normal" transform="translate(203.200,140.400) scale(0.9200,1.0000)">1-Specificity</text>
<text x="0" y="0" font-size="14.67" text-anchor="start" fill="#111" stroke="#111" stroke-width="0.000" font-weight="normal" transform="translate(271.700,17.300) scale(0.9200,1.0000)">D</text>
<line x1="299.20" y1="33.20" x2="299.20" y2="135.60" stroke="#222" stroke-width="1.4"/>
<line x1="298.50" y1="135.00" x2="407.50" y2="135.00" stroke="#222" stroke-width="1.4"/>
<text x="0" y="0" font-size="6.00" text-anchor="end" fill="#222" stroke="#222" stroke-width="0.000" font-weight="normal" transform="translate(296.900,132.700) scale(0.8800,1.0000)">0.00</text>
<text x="0" y="0" font-size="6.00" text-anchor="end" fill="#222" stroke="#222" stroke-width="0.000" font-weight="normal" transform="translate(296.900,109.475) scale(0.8800,1.0000)">0.25</text>
<text x="0" y="0" font-size="6.00" text-anchor="end" fill="#222" stroke="#222" stroke-width="0.000" font-weight="normal" transform="translate(296.900,86.250) scale(0.8800,1.0000)">0.50</text>
<text x="0" y="0" font-size="6.00" text-anchor="end" fill="#222" stroke="#222" stroke-width="0.000" font-weight="normal" transform="translate(296.900,63.025) scale(0.8800,1.0000)">0.75</text>
<text x="0" y="0" font-size="6.00" text-anchor="end" fill="#222" stroke="#222" stroke-width="0.000" font-weight="normal" transform="translate(296.900,39.800) scale(0.8800,1.0000)">1.00</text>
<text x="0" y="0" font-size="6.10" text-anchor="middle" fill="#222" stroke="#222" stroke-width="0.000" font-weight="normal" transform="translate(303.300,141.900) scale(0.8850,1.0000)">0</text>
<text x="0" y="0" font-size="6.10" text-anchor="middle" fill="#222" stroke="#222" stroke-width="0.000" font-weight="normal" transform="translate(315.560,141.900) scale(0.8850,1.0000)">10</text>
<text x="0" y="0" font-size="6.10" text-anchor="middle" fill="#222" stroke="#222" stroke-width="0.000" font-weight="normal" transform="translate(327.820,141.900) scale(0.8850,1.0000)">20</text>
<text x="0" y="0" font-size="6.10" text-anchor="middle" fill="#222" stroke="#222" stroke-width="0.000" font-weight="normal" transform="translate(340.080,141.900) scale(0.8850,1.0000)">30</text>
<text x="0" y="0" font-size="6.10" text-anchor="middle" fill="#222" stroke="#222" stroke-width="0.000" font-weight="normal" transform="translate(352.340,141.900) scale(0.8850,1.0000)">40</text>
<text x="0" y="0" font-size="6.10" text-anchor="middle" fill="#222" stroke="#222" stroke-width="0.000" font-weight="normal" transform="translate(364.600,141.900) scale(0.8850,1.0000)">50</text>
<text x="0" y="0" font-size="6.10" text-anchor="middle" fill="#222" stroke="#222" stroke-width="0.000" font-weight="normal" transform="translate(376.860,141.900) scale(0.8850,1.0000)">60</text>
<text x="0" y="0" font-size="6.10" text-anchor="middle" fill="#222" stroke="#222" stroke-width="0.000" font-weight="normal" transform="translate(389.120,141.900) scale(0.8850,1.0000)">70</text>
<text x="0" y="0" font-size="6.10" text-anchor="middle" fill="#222" stroke="#222" stroke-width="0.000" font-weight="normal" transform="translate(401.380,141.900) scale(0.8850,1.0000)">80</text>
<text x="0" y="0" font-size="8.48" text-anchor="middle" fill="#111" stroke="#111" stroke-width="0.000" font-weight="normal" transform="translate(356.700,153.200) scale(0.9200,1.0000)">OS Time (Months)</text>
<text x="0" y="0" font-size="7.55" text-anchor="middle" fill="#111" stroke="#111" stroke-width="0.000" font-weight="normal" transform="translate(282.900,82.800) scale(1.0000,1.0000) rotate(-90)">Survival probability (%)</text>
<rect x="337.60" y="33.20" width="2.9" height="1.6" fill="#F8766D" opacity="0.55"/>
<text x="0" y="0" font-size="5.00" text-anchor="start" fill="#000" stroke="#000" stroke-width="0.150" font-weight="normal" transform="translate(343.200,35.900) scale(0.9200,1.0000)">High</text>
<rect x="355.80" y="33.20" width="2.9" height="1.6" fill="#00BFC4" opacity="0.55"/>
<text x="0" y="0" font-size="5.00" text-anchor="start" fill="#000" stroke="#000" stroke-width="0.150" font-weight="normal" transform="translate(361.100,35.900) scale(0.9200,1.0000)">Low</text>
<line x1="303.20" y1="84.50" x2="333.50" y2="84.50" stroke="#b0b0b0" stroke-width="0.8"/>
<line x1="324.20" y1="84.50" x2="324.20" y2="131.00" stroke="#c6c6c6" stroke-width="0.8"/>
<line x1="333.50" y1="84.50" x2="333.50" y2="131.00" stroke="#c6c6c6" stroke-width="0.8"/>
<text x="0" y="0" font-size="4.20" text-anchor="start" fill="#222" stroke="#222" stroke-width="0.000" font-weight="normal" transform="translate(305.300,113.600) scale(0.8000,1.0000)">p = 0.00056</text>
<polyline points="303.70,37.90 305.15,37.90 305.15,39.10 306.60,39.10 306.60,40.30 307.25,40.30 307.25,42.10 307.90,42.10 307.90,43.90 308.40,43.90 308.40,45.55 308.90,45.55 308.90,47.20 309.43,47.20 309.43,48.73 309.97,48.73 309.97,50.27 310.50,50.27 310.50,51.80 311.50,51.80 311.50,53.75 312.50,53.75 312.50,55.70 312.93,55.70 312.93,57.23 313.37,57.23 313.37,58.77 313.80,58.77 313.80,60.30 314.80,60.30 314.80,61.95 315.80,61.95 315.80,63.60 316.80,63.60 316.80,65.25 317.80,65.25 317.80,66.90 318.25,66.90 318.25,68.55 318.70,68.55 318.70,70.20 319.00,70.20 319.00,71.90 319.30,71.90 319.30,73.60 319.60,73.60 319.60,75.30 320.60,75.30 320.60,76.25 321.60,76.25 321.60,77.20 322.03,77.20 322.03,78.73 322.47,78.73 322.47,80.27 322.90,80.27 322.90,81.80 323.55,81.80 323.55,83.45 324.20,83.45 324.20,85.10 324.87,85.10 324.87,86.63 325.53,86.63 325.53,88.17 326.20,88.17 326.20,89.70 326.63,89.70 326.63,91.23 327.07,91.23 327.07,92.77 327.50,92.77 327.50,94.30 327.93,94.30 327.93,95.83 328.37,95.83 328.37,97.37 328.80,97.37 328.80,98.90 329.80,98.90 329.80,100.55 330.80,100.55 330.80,102.20 331.45,102.20 331.45,103.55 332.10,103.55 332.10,104.90 340.00,104.90 340.00,106.80 349.30,106.80 349.30,111.50 357.90,111.50 357.90,116.40 364.80,116.40 364.80,121.40 397.00,121.40" fill="none" stroke="#F8766D" stroke-width="0.95" stroke-linejoin="miter"/>
<polyline points="303.70,37.70 304.80,37.70 304.80,38.50 305.90,38.50 305.90,39.30 306.90,39.30 306.90,40.25 307.90,40.25 307.90,41.20 309.20,41.20 309.20,43.20 310.30,43.20 310.30,43.57 311.40,43.57 311.40,43.93 312.50,43.93 312.50,44.30 313.80,44.30 313.80,46.50 314.80,46.50 314.80,48.15 315.80,48.15 315.80,49.80 316.80,49.80 316.80,51.10 317.80,51.10 317.80,52.40 319.70,52.40 319.70,54.80 320.70,54.80 320.70,55.90 321.70,55.90 321.70,57.00 322.13,57.00 322.13,58.53 322.57,58.53 322.57,60.07 323.00,60.07 323.00,61.60 323.65,61.60 323.65,63.25 324.30,63.25 324.30,64.90 325.65,64.90 325.65,66.55 327.00,66.55 327.00,68.20 327.65,68.20 327.65,69.85 328.30,69.85 328.30,71.50 329.50,71.50 329.50,73.90 330.15,73.90 330.15,75.55 330.80,75.55 330.80,77.20 331.45,77.20 331.45,78.85 332.10,78.85 332.10,80.50 332.75,80.50 332.75,82.70 333.40,82.70 333.40,84.90 345.90,84.90 345.90,88.30 386.10,88.30 386.10,99.10 392.40,99.10 392.40,115.50 406.20,115.50" fill="none" stroke="#00BFC4" stroke-width="0.95" stroke-linejoin="miter"/>
<line x1="439.20" y1="33.20" x2="439.20" y2="135.60" stroke="#222" stroke-width="1.4"/>
<line x1="438.50" y1="135.00" x2="547.50" y2="135.00" stroke="#222" stroke-width="1.4"/>
<text x="0" y="0" font-size="6.00" text-anchor="end" fill="#222" stroke="#222" stroke-width="0.000" font-weight="normal" transform="translate(436.900,132.700) scale(0.8800,1.0000)">0.00</text>
<text x="0" y="0" font-size="6.00" text-anchor="end" fill="#222" stroke="#222" stroke-width="0.000" font-weight="normal" transform="translate(436.900,109.475) scale(0.8800,1.0000)">0.25</text>
<text x="0" y="0" font-size="6.00" text-anchor="end" fill="#222" stroke="#222" stroke-width="0.000" font-weight="normal" transform="translate(436.900,86.250) scale(0.8800,1.0000)">0.50</text>
<text x="0" y="0" font-size="6.00" text-anchor="end" fill="#222" stroke="#222" stroke-width="0.000" font-weight="normal" transform="translate(436.900,63.025) scale(0.8800,1.0000)">0.75</text>
<text x="0" y="0" font-size="6.00" text-anchor="end" fill="#222" stroke="#222" stroke-width="0.000" font-weight="normal" transform="translate(436.900,39.800) scale(0.8800,1.0000)">1.00</text>
<text x="0" y="0" font-size="6.10" text-anchor="middle" fill="#222" stroke="#222" stroke-width="0.000" font-weight="normal" transform="translate(443.300,141.900) scale(0.8850,1.0000)">0</text>
<text x="0" y="0" font-size="6.10" text-anchor="middle" fill="#222" stroke="#222" stroke-width="0.000" font-weight="normal" transform="translate(455.560,141.900) scale(0.8850,1.0000)">10</text>
<text x="0" y="0" font-size="6.10" text-anchor="middle" fill="#222" stroke="#222" stroke-width="0.000" font-weight="normal" transform="translate(467.820,141.900) scale(0.8850,1.0000)">20</text>
<text x="0" y="0" font-size="6.10" text-anchor="middle" fill="#222" stroke="#222" stroke-width="0.000" font-weight="normal" transform="translate(480.080,141.900) scale(0.8850,1.0000)">30</text>
<text x="0" y="0" font-size="6.10" text-anchor="middle" fill="#222" stroke="#222" stroke-width="0.000" font-weight="normal" transform="translate(492.340,141.900) scale(0.8850,1.0000)">40</text>
<text x="0" y="0" font-size="6.10" text-anchor="middle" fill="#222" stroke="#222" stroke-width="0.000" font-weight="normal" transform="translate(504.600,141.900) scale(0.8850,1.0000)">50</text>
<text x="0" y="0" font-size="6.10" text-anchor="middle" fill="#222" stroke="#222" stroke-width="0.000" font-weight="normal" transform="translate(516.860,141.900) scale(0.8850,1.0000)">60</text>
<text x="0" y="0" font-size="6.10" text-anchor="middle" fill="#222" stroke="#222" stroke-width="0.000" font-weight="normal" transform="translate(529.120,141.900) scale(0.8850,1.0000)">70</text>
<text x="0" y="0" font-size="6.10" text-anchor="middle" fill="#222" stroke="#222" stroke-width="0.000" font-weight="normal" transform="translate(541.380,141.900) scale(0.8850,1.0000)">80</text>
<text x="0" y="0" font-size="8.48" text-anchor="middle" fill="#111" stroke="#111" stroke-width="0.000" font-weight="normal" transform="translate(492.800,153.200) scale(0.9200,1.0000)">PFI Time (Months)</text>
<text x="0" y="0" font-size="7.55" text-anchor="middle" fill="#111" stroke="#111" stroke-width="0.000" font-weight="normal" transform="translate(422.900,82.800) scale(1.0000,1.0000) rotate(-90)">Survival probability (%)</text>
<rect x="477.60" y="33.20" width="2.9" height="1.6" fill="#F8766D" opacity="0.55"/>
<text x="0" y="0" font-size="5.00" text-anchor="start" fill="#000" stroke="#000" stroke-width="0.150" font-weight="normal" transform="translate(483.200,35.900) scale(0.9200,1.0000)">High</text>
<rect x="495.80" y="33.20" width="2.9" height="1.6" fill="#00BFC4" opacity="0.55"/>
<text x="0" y="0" font-size="5.00" text-anchor="start" fill="#000" stroke="#000" stroke-width="0.150" font-weight="normal" transform="translate(501.100,35.900) scale(0.9200,1.0000)">Low</text>
<line x1="443.20" y1="84.50" x2="466.60" y2="84.50" stroke="#b0b0b0" stroke-width="0.8"/>
<line x1="459.20" y1="84.50" x2="459.20" y2="131.00" stroke="#c6c6c6" stroke-width="0.8"/>
<line x1="466.60" y1="84.50" x2="466.60" y2="131.00" stroke="#c6c6c6" stroke-width="0.8"/>
<text x="0" y="0" font-size="4.20" text-anchor="start" fill="#222" stroke="#222" stroke-width="0.000" font-weight="normal" transform="translate(445.300,113.600) scale(0.8000,1.0000)">p = 0.0027</text>
<polyline points="443.70,37.90 444.80,37.90 444.80,39.25 445.90,39.25 445.90,40.60 446.90,40.60 446.90,42.55 447.90,42.55 447.90,44.50 448.33,44.50 448.33,46.27 448.77,46.27 448.77,48.03 449.20,48.03 449.20,49.80 449.52,49.80 449.52,51.45 449.85,51.45 449.85,53.10 450.18,53.10 450.18,54.75 450.50,54.75 450.50,56.40 451.15,56.40 451.15,58.05 451.80,58.05 451.80,59.70 453.20,59.70 453.20,62.30 453.85,62.30 453.85,63.95 454.50,63.95 454.50,65.60 454.80,65.60 454.80,67.55 455.10,67.55 455.10,69.50 455.45,69.50 455.45,71.25 455.80,71.25 455.80,73.00 456.60,73.00 456.60,75.30 457.03,75.30 457.03,76.83 457.47,76.83 457.47,78.37 457.90,78.37 457.90,79.90 458.33,79.90 458.33,81.43 458.77,81.43 458.77,82.97 459.20,82.97 459.20,84.50 459.63,84.50 459.63,86.23 460.07,86.23 460.07,87.97 460.50,87.97 460.50,89.70 461.50,89.70 461.50,91.05 462.50,91.05 462.50,92.40 462.93,92.40 462.93,93.93 463.37,93.93 463.37,95.47 463.80,95.47 463.80,97.00 464.55,97.00 464.55,98.80 465.30,98.80 465.30,100.60 465.95,100.60 465.95,102.40 466.60,102.40 466.60,104.20 467.90,104.20 467.90,106.80 469.20,106.80 469.20,107.50 470.50,107.50 470.50,108.20 471.50,108.20 471.50,109.80 472.50,109.80 472.50,111.40 473.50,111.40 473.50,112.75 474.50,112.75 474.50,114.10 475.80,114.10 475.80,115.10 477.10,115.10 477.10,116.10 483.00,116.10 483.10,116.10 483.10,117.67 483.20,117.67 483.20,119.25 483.30,119.25 483.30,120.83 483.40,120.83 483.40,122.40 525.50,122.40" fill="none" stroke="#F8766D" stroke-width="0.95" stroke-linejoin="miter"/>
<polyline points="443.70,37.90 445.30,37.90 445.30,39.30 445.93,39.30 445.93,40.83 446.57,40.83 446.57,42.37 447.20,42.37 447.20,43.90 447.87,43.90 447.87,45.87 448.53,45.87 448.53,47.83 449.20,47.83 449.20,49.80 449.85,49.80 449.85,51.75 450.50,51.75 450.50,53.70 451.85,53.70 451.85,54.70 453.20,54.70 453.20,55.70 455.10,55.70 455.10,57.70 456.10,57.70 456.10,59.35 457.10,59.35 457.10,61.00 458.40,61.00 458.40,62.90 458.63,62.90 458.63,64.47 458.87,64.47 458.87,66.03 459.10,66.03 459.10,67.60 460.10,67.60 460.10,69.20 461.10,69.20 461.10,70.80 461.33,70.80 461.33,72.50 461.57,72.50 461.57,74.20 461.80,74.20 461.80,75.90 462.80,75.90 462.80,76.55 463.80,76.55 463.80,77.20 464.45,77.20 464.45,79.20 465.10,79.20 465.10,81.20 465.75,81.20 465.75,83.15 466.40,83.15 466.40,85.10 467.80,85.10 467.80,87.10 469.70,87.10 469.70,88.40 472.40,88.40 472.83,88.40 472.83,90.03 473.27,90.03 473.27,91.67 473.70,91.67 473.70,93.30 494.90,93.30 495.30,93.30 495.30,95.05 495.70,95.05 495.70,96.80 496.10,96.80 496.10,98.55 496.50,98.55 496.50,100.30 504.20,100.30 504.20,104.20 507.70,104.20 507.70,108.20 546.20,108.20" fill="none" stroke="#00BFC4" stroke-width="0.95" stroke-linejoin="miter"/>
<line x1="299.20" y1="163.50" x2="299.20" y2="265.90" stroke="#222" stroke-width="1.4"/>
<line x1="298.50" y1="265.30" x2="407.50" y2="265.30" stroke="#222" stroke-width="1.4"/>
<text x="0" y="0" font-size="6.00" text-anchor="end" fill="#222" stroke="#222" stroke-width="0.000" font-weight="normal" transform="translate(296.900,263.000) scale(0.8800,1.0000)">0.00</text>
<text x="0" y="0" font-size="6.00" text-anchor="end" fill="#222" stroke="#222" stroke-width="0.000" font-weight="normal" transform="translate(296.900,239.775) scale(0.8800,1.0000)">0.25</text>
<text x="0" y="0" font-size="6.00" text-anchor="end" fill="#222" stroke="#222" stroke-width="0.000" font-weight="normal" transform="translate(296.900,216.550) scale(0.8800,1.0000)">0.50</text>
<text x="0" y="0" font-size="6.00" text-anchor="end" fill="#222" stroke="#222" stroke-width="0.000" font-weight="normal" transform="translate(296.900,193.325) scale(0.8800,1.0000)">0.75</text>
<text x="0" y="0" font-size="6.00" text-anchor="end" fill="#222" stroke="#222" stroke-width="0.000" font-weight="normal" transform="translate(296.900,170.100) scale(0.8800,1.0000)">1.00</text>
<text x="0" y="0" font-size="6.10" text-anchor="middle" fill="#222" stroke="#222" stroke-width="0.000" font-weight="normal" transform="translate(303.300,272.200) scale(0.8850,1.0000)">0</text>
<text x="0" y="0" font-size="6.10" text-anchor="middle" fill="#222" stroke="#222" stroke-width="0.000" font-weight="normal" transform="translate(315.560,272.200) scale(0.8850,1.0000)">10</text>
<text x="0" y="0" font-size="6.10" text-anchor="middle" fill="#222" stroke="#222" stroke-width="0.000" font-weight="normal" transform="translate(327.820,272.200) scale(0.8850,1.0000)">20</text>
<text x="0" y="0" font-size="6.10" text-anchor="middle" fill="#222" stroke="#222" stroke-width="0.000" font-weight="normal" transform="translate(340.080,272.200) scale(0.8850,1.0000)">30</text>
<text x="0" y="0" font-size="6.10" text-anchor="middle" fill="#222" stroke="#222" stroke-width="0.000" font-weight="normal" transform="translate(352.340,272.200) scale(0.8850,1.0000)">40</text>
<text x="0" y="0" font-size="6.10" text-anchor="middle" fill="#222" stroke="#222" stroke-width="0.000" font-weight="normal" transform="translate(364.600,272.200) scale(0.8850,1.0000)">50</text>
<text x="0" y="0" font-size="6.10" text-anchor="middle" fill="#222" stroke="#222" stroke-width="0.000" font-weight="normal" transform="translate(376.860,272.200) scale(0.8850,1.0000)">60</text>
<text x="0" y="0" font-size="6.10" text-anchor="middle" fill="#222" stroke="#222" stroke-width="0.000" font-weight="normal" transform="translate(389.120,272.200) scale(0.8850,1.0000)">70</text>
<text x="0" y="0" font-size="6.10" text-anchor="middle" fill="#222" stroke="#222" stroke-width="0.000" font-weight="normal" transform="translate(401.380,272.200) scale(0.8850,1.0000)">80</text>
<text x="0" y="0" font-size="8.48" text-anchor="middle" fill="#111" stroke="#111" stroke-width="0.000" font-weight="normal" transform="translate(358.900,281.600) scale(0.9200,1.0000)">DSS Time (Months)</text>
<text x="0" y="0" font-size="7.55" text-anchor="middle" fill="#111" stroke="#111" stroke-width="0.000" font-weight="normal" transform="translate(282.900,213.100) scale(1.0000,1.0000) rotate(-90)">Survival probability (%)</text>
<rect x="337.60" y="163.50" width="2.9" height="1.6" fill="#F8766D" opacity="0.55"/>
<text x="0" y="0" font-size="5.00" text-anchor="start" fill="#000" stroke="#000" stroke-width="0.150" font-weight="normal" transform="translate(343.200,166.200) scale(0.9200,1.0000)">High</text>
<rect x="355.80" y="163.50" width="2.9" height="1.6" fill="#00BFC4" opacity="0.55"/>
<text x="0" y="0" font-size="5.00" text-anchor="start" fill="#000" stroke="#000" stroke-width="0.150" font-weight="normal" transform="translate(361.100,166.200) scale(0.9200,1.0000)">Low</text>
<line x1="303.20" y1="214.80" x2="327.60" y2="214.80" stroke="#b0b0b0" stroke-width="0.8"/>
<line x1="327.60" y1="214.80" x2="327.60" y2="261.30" stroke="#c6c6c6" stroke-width="0.8"/>
<text x="0" y="0" font-size="4.20" text-anchor="start" fill="#222" stroke="#222" stroke-width="0.000" font-weight="normal" transform="translate(305.300,243.900) scale(0.8000,1.0000)">p = 0.0071</text>
<polyline points="303.70,167.70 305.15,167.70 305.15,168.50 306.60,168.50 306.60,169.30 307.90,169.30 307.90,170.95 309.20,170.95 309.20,172.60 309.87,172.60 309.87,174.13 310.53,174.13 310.53,175.67 311.20,175.67 311.20,177.20 311.87,177.20 311.87,178.93 312.53,178.93 312.53,180.67 313.20,180.67 313.20,182.40 313.83,182.40 313.83,183.93 314.47,183.93 314.47,185.47 315.10,185.47 315.10,187.00 316.10,187.00 316.10,188.65 317.10,188.65 317.10,190.30 317.75,190.30 317.75,191.95 318.40,191.95 318.40,193.60 318.63,193.60 318.63,195.13 318.87,195.13 318.87,196.67 319.10,196.67 319.10,198.20 320.10,198.20 320.10,199.20 321.10,199.20 321.10,200.20 322.90,200.20 322.90,201.30 324.20,201.30 324.20,203.90 324.85,203.90 324.85,205.90 325.50,205.90 325.50,207.90 326.15,207.90 326.15,209.85 326.80,209.85 326.80,211.80 327.50,211.80 327.50,214.50 327.73,214.50 327.73,216.23 327.97,216.23 327.97,217.97 328.20,217.97 328.20,219.70 328.40,219.70 328.40,221.23 328.60,221.23 328.60,222.77 328.80,222.77 328.80,224.30 330.10,224.30 330.10,226.30 331.40,226.30 331.40,228.30 340.70,228.30 340.70,231.30 357.90,231.30 357.90,239.00 364.80,239.00 364.80,246.40 397.00,246.40" fill="none" stroke="#F8766D" stroke-width="0.95" stroke-linejoin="miter"/>
<polyline points="303.70,167.70 305.15,167.70 305.15,168.15 306.60,168.15 306.60,168.60 307.90,168.60 307.90,169.90 309.20,169.90 309.20,171.20 310.30,171.20 310.30,171.97 311.40,171.97 311.40,172.73 312.50,172.73 312.50,173.50 313.80,173.50 313.80,175.80 315.10,175.80 315.10,177.80 316.40,177.80 316.40,179.80 317.75,179.80 317.75,181.10 319.10,181.10 319.10,182.40 320.40,182.40 320.40,183.75 321.70,183.75 321.70,185.10 322.15,185.10 322.15,187.05 322.60,187.05 322.60,189.00 323.45,189.00 323.45,190.95 324.30,190.95 324.30,192.90 325.65,192.90 325.65,194.25 327.00,194.25 327.00,195.60 327.65,195.60 327.65,197.25 328.30,197.25 328.30,198.90 329.20,198.90 329.20,201.10 330.10,201.10 330.10,203.30 330.75,203.30 330.75,204.95 331.40,204.95 331.40,206.60 332.10,206.60 332.10,208.25 332.80,208.25 332.80,209.90 333.45,209.90 333.45,212.05 334.10,212.05 334.10,214.20 406.20,214.20" fill="none" stroke="#00BFC4" stroke-width="0.95" stroke-linejoin="miter"/>
<line x1="439.20" y1="163.50" x2="439.20" y2="265.90" stroke="#222" stroke-width="1.4"/>
<line x1="438.50" y1="265.30" x2="547.50" y2="265.30" stroke="#222" stroke-width="1.4"/>
<text x="0" y="0" font-size="6.00" text-anchor="end" fill="#222" stroke="#222" stroke-width="0.000" font-weight="normal" transform="translate(436.900,263.000) scale(0.8800,1.0000)">0.00</text>
<text x="0" y="0" font-size="6.00" text-anchor="end" fill="#222" stroke="#222" stroke-width="0.000" font-weight="normal" transform="translate(436.900,239.775) scale(0.8800,1.0000)">0.25</text>
<text x="0" y="0" font-size="6.00" text-anchor="end" fill="#222" stroke="#222" stroke-width="0.000" font-weight="normal" transform="translate(436.900,216.550) scale(0.8800,1.0000)">0.50</text>
<text x="0" y="0" font-size="6.00" text-anchor="end" fill="#222" stroke="#222" stroke-width="0.000" font-weight="normal" transform="translate(436.900,193.325) scale(0.8800,1.0000)">0.75</text>
<text x="0" y="0" font-size="6.00" text-anchor="end" fill="#222" stroke="#222" stroke-width="0.000" font-weight="normal" transform="translate(436.900,170.100) scale(0.8800,1.0000)">1.00</text>
<text x="0" y="0" font-size="6.10" text-anchor="middle" fill="#222" stroke="#222" stroke-width="0.000" font-weight="normal" transform="translate(443.300,272.200) scale(0.8850,1.0000)">0</text>
<text x="0" y="0" font-size="6.10" text-anchor="middle" fill="#222" stroke="#222" stroke-width="0.000" font-weight="normal" transform="translate(455.560,272.200) scale(0.8850,1.0000)">10</text>
<text x="0" y="0" font-size="6.10" text-anchor="middle" fill="#222" stroke="#222" stroke-width="0.000" font-weight="normal" transform="translate(467.820,272.200) scale(0.8850,1.0000)">20</text>
<text x="0" y="0" font-size="6.10" text-anchor="middle" fill="#222" stroke="#222" stroke-width="0.000" font-weight="normal" transform="translate(480.080,272.200) scale(0.8850,1.0000)">30</text>
<text x="0" y="0" font-size="6.10" text-anchor="middle" fill="#222" stroke="#222" stroke-width="0.000" font-weight="normal" transform="translate(492.340,272.200) scale(0.8850,1.0000)">40</text>
<text x="0" y="0" font-size="6.10" text-anchor="middle" fill="#222" stroke="#222" stroke-width="0.000" font-weight="normal" transform="translate(504.600,272.200) scale(0.8850,1.0000)">50</text>
<text x="0" y="0" font-size="6.10" text-anchor="middle" fill="#222" stroke="#222" stroke-width="0.000" font-weight="normal" transform="translate(516.860,272.200) scale(0.8850,1.0000)">60</text>
<text x="0" y="0" font-size="6.10" text-anchor="middle" fill="#222" stroke="#222" stroke-width="0.000" font-weight="normal" transform="translate(529.120,272.200) scale(0.8850,1.0000)">70</text>
<text x="0" y="0" font-size="6.10" text-anchor="middle" fill="#222" stroke="#222" stroke-width="0.000" font-weight="normal" transform="translate(541.380,272.200) scale(0.8850,1.0000)">80</text>
<text x="0" y="0" font-size="8.48" text-anchor="middle" fill="#111" stroke="#111" stroke-width="0.000" font-weight="normal" transform="translate(493.400,281.600) scale(0.9200,1.0000)">DFI Time (Months)</text>
<text x="0" y="0" font-size="7.55" text-anchor="middle" fill="#111" stroke="#111" stroke-width="0.000" font-weight="normal" transform="translate(422.900,213.100) scale(1.0000,1.0000) rotate(-90)">Survival probability (%)</text>
<rect x="477.60" y="163.50" width="2.9" height="1.6" fill="#F8766D" opacity="0.55"/>
<text x="0" y="0" font-size="5.00" text-anchor="start" fill="#000" stroke="#000" stroke-width="0.150" font-weight="normal" transform="translate(483.200,166.200) scale(0.9200,1.0000)">High</text>
<rect x="495.80" y="163.50" width="2.9" height="1.6" fill="#00BFC4" opacity="0.55"/>
<text x="0" y="0" font-size="5.00" text-anchor="start" fill="#000" stroke="#000" stroke-width="0.150" font-weight="normal" transform="translate(501.100,166.200) scale(0.9200,1.0000)">Low</text>
<line x1="443.20" y1="214.80" x2="465.10" y2="214.80" stroke="#b0b0b0" stroke-width="0.8"/>
<line x1="465.10" y1="214.80" x2="465.10" y2="261.30" stroke="#c6c6c6" stroke-width="0.8"/>
<text x="0" y="0" font-size="4.20" text-anchor="start" fill="#222" stroke="#222" stroke-width="0.000" font-weight="normal" transform="translate(445.300,243.900) scale(0.8000,1.0000)">p = 0.0065</text>
<polyline points="443.30,167.70 447.90,167.70 448.60,167.70 448.60,169.90 449.25,169.90 449.25,171.55 449.90,171.55 449.90,173.20 450.20,173.20 450.20,175.20 450.50,175.20 450.50,177.20 450.68,177.20 450.68,178.82 450.85,178.82 450.85,180.45 451.02,180.45 451.02,182.07 451.20,182.07 451.20,183.70 452.20,183.70 452.20,184.05 453.20,184.05 453.20,184.40 454.50,184.40 454.50,187.00 456.40,187.00 456.40,187.70 457.10,187.70 457.10,189.35 457.80,189.35 457.80,191.00 461.10,191.00 463.00,191.00 463.00,191.60 463.00,199.50 464.30,199.50 464.30,202.20 464.37,202.20 464.37,204.10 464.43,204.10 464.43,206.00 464.50,206.00 464.50,207.90 464.60,207.90 464.60,209.77 464.70,209.77 464.70,211.63 464.80,211.63 464.80,213.50 464.90,213.50 464.90,215.37 465.00,215.37 465.00,217.23 465.10,217.23 465.10,219.10 472.40,219.10 472.40,226.30 477.00,226.30 477.00,234.90 483.60,234.90 483.60,243.50 525.50,243.50" fill="none" stroke="#F8766D" stroke-width="0.95" stroke-linejoin="miter"/>
<polyline points="443.30,167.70 444.60,167.70 444.60,168.15 445.90,168.15 445.90,168.60 446.60,168.60 446.60,170.60 447.20,170.60 447.20,173.20 450.50,173.20 451.85,173.20 451.85,173.55 453.20,173.55 453.20,173.90 453.80,173.90 453.80,176.50 457.80,176.50 458.10,176.50 458.10,178.15 458.40,178.15 458.40,179.80 459.75,179.80 459.75,180.10 461.10,180.10 461.10,180.40 461.40,180.40 461.40,182.05 461.70,182.05 461.70,183.70 467.60,183.70 468.03,183.70 468.03,185.23 468.47,185.23 468.47,186.77 468.90,186.77 468.90,188.30 495.30,188.30 495.30,201.00 504.80,201.00 504.80,212.90 528.50,212.90" fill="none" stroke="#00BFC4" stroke-width="0.95" stroke-linejoin="miter"/>
<line x1="351.80" y1="87.40" x2="351.80" y2="89.20" stroke="#00BFC4" stroke-width="0.6"/>
<line x1="354.80" y1="87.40" x2="354.80" y2="89.20" stroke="#00BFC4" stroke-width="0.6"/>
<line x1="358.70" y1="87.40" x2="358.70" y2="89.20" stroke="#00BFC4" stroke-width="0.6"/>
<line x1="365.60" y1="87.40" x2="365.60" y2="89.20" stroke="#00BFC4" stroke-width="0.6"/>
<line x1="378.40" y1="87.40" x2="378.40" y2="89.20" stroke="#00BFC4" stroke-width="0.6"/>
<line x1="382.40" y1="87.40" x2="382.40" y2="89.20" stroke="#00BFC4" stroke-width="0.6"/>
<line x1="388.30" y1="98.20" x2="388.30" y2="100.00" stroke="#00BFC4" stroke-width="0.6"/>
<line x1="390.30" y1="98.20" x2="390.30" y2="100.00" stroke="#00BFC4" stroke-width="0.6"/>
<line x1="385.40" y1="120.50" x2="385.40" y2="122.30" stroke="#F8766D" stroke-width="0.6"/>
<line x1="392.20" y1="120.50" x2="392.20" y2="122.30" stroke="#F8766D" stroke-width="0.6"/>
<line x1="342.00" y1="105.90" x2="342.00" y2="107.70" stroke="#F8766D" stroke-width="0.6"/>
<line x1="345.90" y1="105.90" x2="345.90" y2="107.70" stroke="#F8766D" stroke-width="0.6"/>
<line x1="484.00" y1="92.40" x2="484.00" y2="94.20" stroke="#00BFC4" stroke-width="0.6"/>
<line x1="486.90" y1="92.40" x2="486.90" y2="94.20" stroke="#00BFC4" stroke-width="0.6"/>
<line x1="489.90" y1="92.40" x2="489.90" y2="94.20" stroke="#00BFC4" stroke-width="0.6"/>
<line x1="493.80" y1="92.40" x2="493.80" y2="94.20" stroke="#00BFC4" stroke-width="0.6"/>
<line x1="499.70" y1="99.40" x2="499.70" y2="101.20" stroke="#00BFC4" stroke-width="0.6"/>
<line x1="504.60" y1="103.30" x2="504.60" y2="105.10" stroke="#00BFC4" stroke-width="0.6"/>
<line x1="516.50" y1="107.30" x2="516.50" y2="109.10" stroke="#00BFC4" stroke-width="0.6"/>
<line x1="518.50" y1="107.30" x2="518.50" y2="109.10" stroke="#00BFC4" stroke-width="0.6"/>
<line x1="522.40" y1="107.30" x2="522.40" y2="109.10" stroke="#00BFC4" stroke-width="0.6"/>
<line x1="528.30" y1="107.30" x2="528.30" y2="109.10" stroke="#00BFC4" stroke-width="0.6"/>
<line x1="488.90" y1="121.50" x2="488.90" y2="123.30" stroke="#F8766D" stroke-width="0.6"/>
<line x1="340.90" y1="213.30" x2="340.90" y2="215.10" stroke="#00BFC4" stroke-width="0.6"/>
<line x1="342.40" y1="213.30" x2="342.40" y2="215.10" stroke="#00BFC4" stroke-width="0.6"/>
<line x1="343.80" y1="213.30" x2="343.80" y2="215.10" stroke="#00BFC4" stroke-width="0.6"/>
<line x1="345.30" y1="213.30" x2="345.30" y2="215.10" stroke="#00BFC4" stroke-width="0.6"/>
<line x1="346.70" y1="213.30" x2="346.70" y2="215.10" stroke="#00BFC4" stroke-width="0.6"/>
<line x1="348.20" y1="213.30" x2="348.20" y2="215.10" stroke="#00BFC4" stroke-width="0.6"/>
<line x1="353.30" y1="213.30" x2="353.30" y2="215.10" stroke="#00BFC4" stroke-width="0.6"/>
<line x1="355.50" y1="213.30" x2="355.50" y2="215.10" stroke="#00BFC4" stroke-width="0.6"/>
<line x1="357.60" y1="213.30" x2="357.60" y2="215.10" stroke="#00BFC4" stroke-width="0.6"/>
<line x1="359.80" y1="213.30" x2="359.80" y2="215.10" stroke="#00BFC4" stroke-width="0.6"/>
<line x1="366.40" y1="213.30" x2="366.40" y2="215.10" stroke="#00BFC4" stroke-width="0.6"/>
<line x1="376.50" y1="213.30" x2="376.50" y2="215.10" stroke="#00BFC4" stroke-width="0.6"/>
<line x1="378.70" y1="213.30" x2="378.70" y2="215.10" stroke="#00BFC4" stroke-width="0.6"/>
<line x1="382.40" y1="213.30" x2="382.40" y2="215.10" stroke="#00BFC4" stroke-width="0.6"/>
<line x1="385.30" y1="213.30" x2="385.30" y2="215.10" stroke="#00BFC4" stroke-width="0.6"/>
<line x1="387.50" y1="213.30" x2="387.50" y2="215.10" stroke="#00BFC4" stroke-width="0.6"/>
<line x1="392.50" y1="213.30" x2="392.50" y2="215.10" stroke="#00BFC4" stroke-width="0.6"/>
<line x1="385.50" y1="245.50" x2="385.50" y2="247.30" stroke="#F8766D" stroke-width="0.6"/>
<line x1="473.50" y1="187.40" x2="473.50" y2="189.20" stroke="#00BFC4" stroke-width="0.6"/>
<line x1="478.50" y1="187.40" x2="478.50" y2="189.20" stroke="#00BFC4" stroke-width="0.6"/>
<line x1="483.40" y1="187.40" x2="483.40" y2="189.20" stroke="#00BFC4" stroke-width="0.6"/>
<line x1="488.30" y1="187.40" x2="488.30" y2="189.20" stroke="#00BFC4" stroke-width="0.6"/>
<line x1="507.70" y1="212.00" x2="507.70" y2="213.80" stroke="#00BFC4" stroke-width="0.6"/>
<line x1="512.70" y1="212.00" x2="512.70" y2="213.80" stroke="#00BFC4" stroke-width="0.6"/>
<line x1="517.60" y1="212.00" x2="517.60" y2="213.80" stroke="#00BFC4" stroke-width="0.6"/>
</svg>
</body></html>
